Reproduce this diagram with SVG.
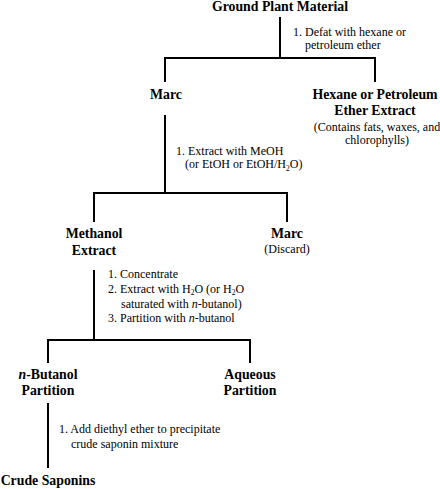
<svg xmlns="http://www.w3.org/2000/svg" width="440" height="489" viewBox="0 0 440 489">
<style>
.t{font-family:"Liberation Serif","Times New Roman",serif;font-weight:bold;font-size:13.8px;fill:#000;text-anchor:middle}
.n{font-family:"Liberation Serif","Times New Roman",serif;font-size:12px;fill:#000}
.c{text-anchor:middle}
.s{font-size:7.5px}
.l{stroke:#000;stroke-width:2;fill:none}
</style>
<rect width="440" height="489" fill="#fff"/>
<g id="connectors">
<path class="l" d="M280,17V58M165,82V58H375V82"/>
<path class="l" d="M165,115V193M94,222V193H287V222"/>
<path class="l" d="M94,270V340M48,363V340H250V363"/>
<path class="l" d="M48,403V468"/>
</g>
<g id="ground"><text class="t" x="280" y="11">Ground Plant Material</text></g>
<g id="step1"><text class="n" x="293" y="36">1. Defat with hexane or</text><text class="n" x="305" y="49">petroleum ether</text></g>
<g id="marc1"><text class="t" x="166" y="99">Marc</text></g>
<g id="hexane"><text class="t" x="375" y="99">Hexane or Petroleum</text><text class="t" x="375" y="115">Ether Extract</text><text class="n c" x="377" y="131">(Contains fats, waxes, and</text><text class="n c" x="377" y="144">chlorophylls)</text></g>
<g id="step2"><text class="n" x="176" y="155">1. Extract with MeOH</text><text class="n" x="185" y="168">(or EtOH or EtOH/H<tspan class="s" dy="2.5">2</tspan><tspan dy="-2.5">O)</tspan></text></g>
<g id="methanol"><text class="t" x="94" y="238">Methanol</text><text class="t" x="94" y="255">Extract</text></g>
<g id="marc2"><text class="t" x="287" y="238">Marc</text><text class="n c" x="287" y="253">(Discard)</text></g>
<g id="step3"><text class="n" x="108" y="278">1. Concentrate</text><text class="n" x="108" y="292.5">2. Extract with H<tspan class="s" dy="2">2</tspan><tspan dy="-2">O (or H</tspan><tspan class="s" dy="2">2</tspan><tspan dy="-2">O</tspan></text><text class="n" x="121" y="307.5">saturated with <tspan font-style="italic">n</tspan>-butanol)</text><text class="n" x="108" y="322">3. Partition with <tspan font-style="italic">n</tspan>-butanol</text></g>
<g id="butanol"><text class="t" x="48" y="379"><tspan font-style="italic">n</tspan>-Butanol</text><text class="t" x="48" y="395">Partition</text></g>
<g id="aqueous"><text class="t" x="250" y="379">Aqueous</text><text class="t" x="250" y="395">Partition</text></g>
<g id="step4"><text class="n" x="59" y="433">1. Add diethyl ether to precipitate</text><text class="n" x="71" y="448">crude saponin mixture</text></g>
<g id="crude"><text class="t" x="48" y="485">Crude Saponins</text></g>
</svg>
